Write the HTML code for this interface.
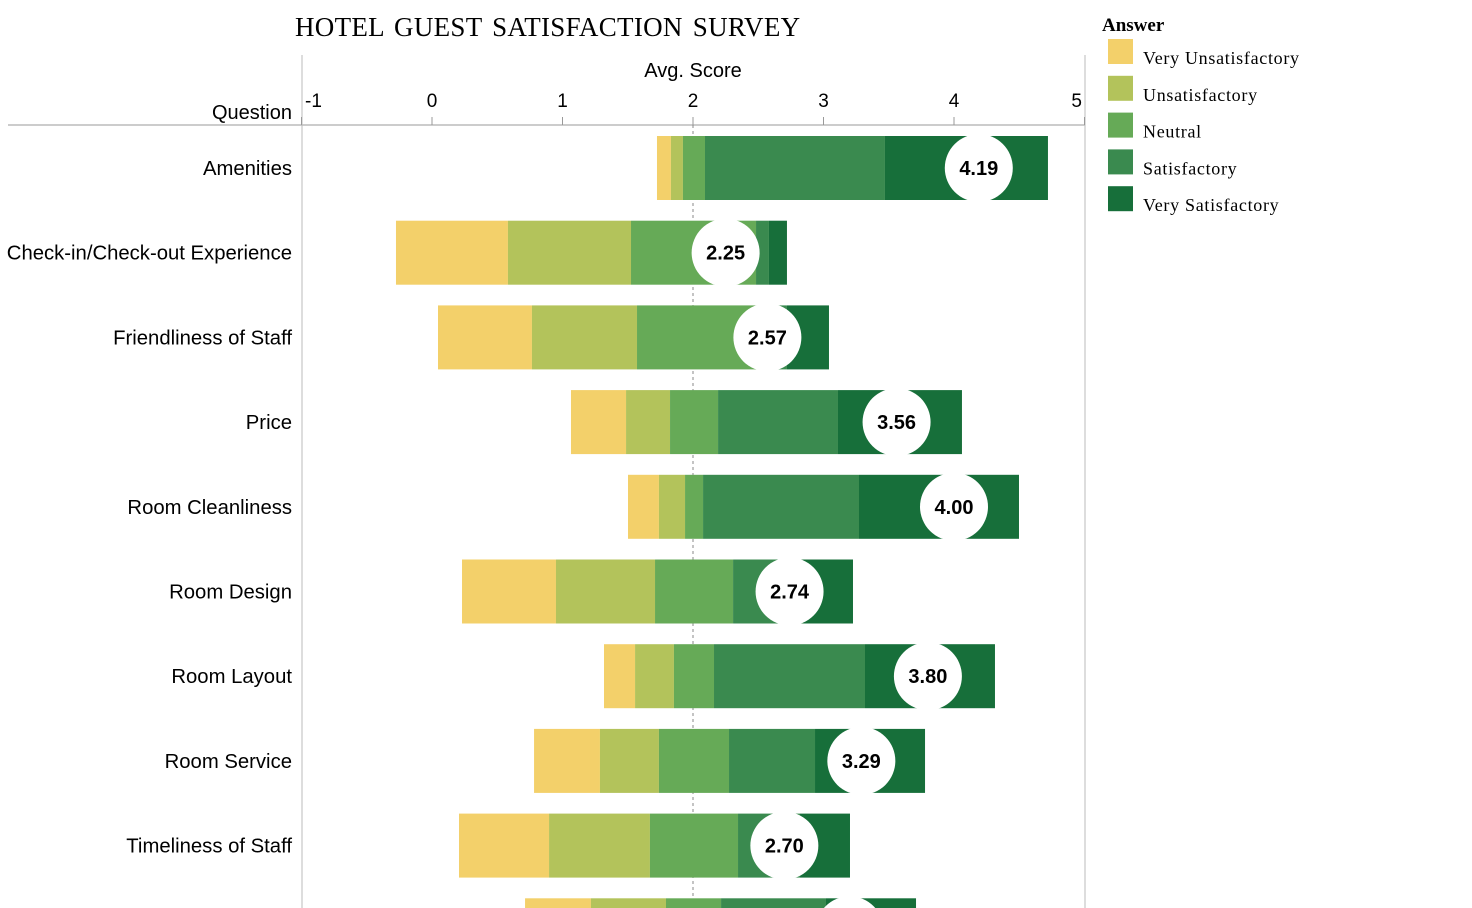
<!DOCTYPE html>
<html><head><meta charset="utf-8"><style>
html,body{margin:0;background:#fff;width:1472px;height:908px;overflow:hidden}
svg{display:block}
svg text{font-family:"Liberation Sans",sans-serif}
</style></head><body>
<svg id="chart" width="1472" height="908" xmlns="http://www.w3.org/2000/svg">
<text x="295" y="36" font-size="27" style="font-family:'Liberation Serif',serif" word-spacing="3" letter-spacing="0.3">HOTEL GUEST SATISFACTION SURVEY</text>
<g id="legend"></g>
<g id="axis"></g>
<g id="bars"></g>
</svg>
<script>
const categories=["Amenities","Check-in/Check-out Experience","Friendliness of Staff","Price","Room Cleanliness","Room Design","Room Layout","Room Service","Timeliness of Staff","Value"];
const starts=[1.724,-0.276,0.046,1.065,1.502,0.230,1.318,0.782,0.207,0.713];
const veryUnsat=[0.107,0.858,0.720,0.422,0.237,0.720,0.238,0.505,0.690,0.505];
const unsat=[0.092,0.943,0.805,0.337,0.200,0.759,0.298,0.452,0.773,0.575];
const neutral=[0.169,0.958,0.981,0.368,0.138,0.598,0.307,0.537,0.675,0.422];
const satisf=[1.379,0.099,0.168,0.919,1.195,0.536,1.157,0.659,0.475,0.804];
const verySat=[1.249,0.138,0.322,0.950,1.226,0.383,0.996,0.843,0.383,0.690];
const scores=[4.19,2.25,2.57,3.56,4.00,2.74,3.80,3.29,2.70,3.20];
const ticks=[-1,0,1,2,3,4,5];
const seriesNames=["Very Unsatisfactory","Unsatisfactory","Neutral","Satisfactory","Very Satisfactory"];
const colors=["#f3d06a","#b3c35b","#66aa57","#3a8a4f","#176f3a"];
const NS="http://www.w3.org/2000/svg";
const x=v=>432+v*130.5;
const y=i=>168+i*84.7;
function mk(t,a,p){const e=document.createElementNS(NS,t);for(const k in a)e.setAttribute(k,a[k]);p.appendChild(e);return e;}
const ax=document.getElementById('axis'),bars=document.getElementById('bars'),lg=document.getElementById('legend');
let l=mk('line',{x1:8,y1:125,x2:1085,y2:125,stroke:'#999','stroke-width':1},ax);


l=mk('line',{x1:302,y1:55,x2:302,y2:908,stroke:'#bbb'},ax);


l=mk('line',{x1:1085,y1:55,x2:1085,y2:908,stroke:'#bbb'},ax);


l=mk('line',{x1:x(2),y1:125,x2:x(2),y2:908,stroke:'#888','stroke-dasharray':'3,3'},ax);


let t=mk('text',{x:693,y:77,'font-size':20,'text-anchor':'middle'},ax);t.textContent='Avg. Score';


t=mk('text',{x:292,y:119,'font-size':20,'text-anchor':'end'},ax);t.textContent='Question';


ticks.forEach(v=>{
 const tk=mk('line',{x1:x(v),y1:117,x2:x(v),y2:125,stroke:'#999'},ax);
 
 
 const tl=mk('text',{x:v===-1?305:(v===5?1082:x(v)),y:107,'font-size':19,'text-anchor':v===-1?'start':(v===5?'end':'middle')},ax);
 tl.textContent=v;
 
 
});
const series=[veryUnsat,unsat,neutral,satisf,verySat];
categories.forEach((c,i)=>{
 const cy=y(i);
 const lab=mk('text',{x:292,y:cy+7,'font-size':20.3,'text-anchor':'end'},bars);lab.textContent=c;
 
 
 let s=starts[i];
 series.forEach((arr,k)=>{
  const r=mk('rect',{x:x(s),y:cy-32,width:arr[i]*130.5,height:64,fill:colors[k]},bars);
  
  
  s+=arr[i];
 });
 const ci=mk('circle',{cx:x(scores[i]),cy:cy,r:34,fill:'#fff'},bars);
 
 
 const st=mk('text',{x:x(scores[i]),y:cy+7,'font-size':20,'font-weight':'bold','text-anchor':'middle'},bars);
 st.textContent=scores[i].toFixed(2);
 
 
});
t=mk('text',{x:1102,y:31,'font-size':19,'font-weight':'bold',style:"font-family:'Liberation Serif',serif"},lg);t.textContent='Answer';


seriesNames.forEach((n,k)=>{
 const sw=mk('rect',{x:1108,y:39+k*36.8,width:25,height:25,fill:colors[k]},lg);
 
 
 const lt=mk('text',{x:1143,y:64+k*36.8,'font-size':18,'letter-spacing':'0.7',style:"font-family:'Liberation Serif',serif"},lg);
 lt.textContent=n;
 
 
});
</script>
</body></html>
